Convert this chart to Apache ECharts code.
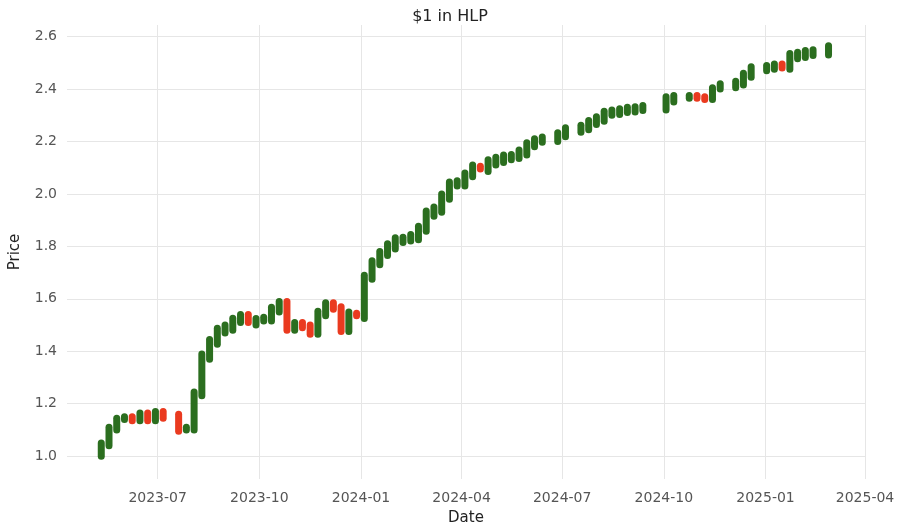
<!DOCTYPE html>
<html><head><meta charset="utf-8">
<script src="https://cdn.jsdelivr.net/npm/echarts@6/dist/echarts.min.js"></script>
<style>html,body{margin:0;padding:0;background:#fff}#c{width:900px;height:531px}</style>
</head><body><div id="c"></div>
<script>
const dates = ['2023-05-11','2023-05-18','2023-05-25','2023-06-01','2023-06-08','2023-06-15','2023-06-22','2023-06-29','2023-07-06',
'2023-07-20','2023-07-27','2023-08-03','2023-08-10','2023-08-17','2023-08-24','2023-08-31','2023-09-07','2023-09-14','2023-09-21','2023-09-28',
'2023-10-05','2023-10-12','2023-10-19','2023-10-26','2023-11-02','2023-11-09','2023-11-16','2023-11-23','2023-11-30','2023-12-07','2023-12-14',
'2023-12-21','2023-12-28','2024-01-04','2024-01-11','2024-01-18','2024-01-25','2024-02-01','2024-02-08','2024-02-15','2024-02-22','2024-02-29',
'2024-03-07','2024-03-14','2024-03-21','2024-03-28','2024-04-04','2024-04-11','2024-04-18','2024-04-25','2024-05-02','2024-05-09','2024-05-16',
'2024-05-23','2024-05-30','2024-06-06','2024-06-13','2024-06-27','2024-07-04','2024-07-18','2024-07-25','2024-08-01','2024-08-08','2024-08-15',
'2024-08-22','2024-08-29','2024-09-05','2024-09-12','2024-10-03','2024-10-10','2024-10-24','2024-10-31','2024-11-07','2024-11-14','2024-11-21',
'2024-12-05','2024-12-12','2024-12-19','2025-01-02','2025-01-09','2025-01-16','2025-01-23','2025-01-30','2025-02-06','2025-02-13','2025-02-27'];
const opens = [1.00,1.04,1.10,1.14,1.15,1.135,1.165,1.135,1.17,
1.16,1.10,1.10,1.23,1.37,1.427,1.47,1.48,1.51,1.54,1.50,
1.515,1.515,1.55,1.59,1.48,1.51,1.50,1.465,1.535,1.585,1.57,
1.475,1.545,1.525,1.675,1.73,1.765,1.79,1.815,1.82,1.825,1.858,
1.915,1.93,1.98,2.03,2.03,2.065,2.105,2.085,2.11,2.12,2.13,
2.135,2.148,2.18,2.197,2.20,2.218,2.235,2.245,2.265,2.277,2.30,
2.303,2.31,2.312,2.318,2.32,2.35,2.365,2.375,2.37,2.36,2.40,
2.405,2.415,2.445,2.47,2.475,2.495,2.475,2.515,2.52,2.528,2.53];
const closes = [1.05,1.11,1.145,1.15,1.135,1.165,1.135,1.17,1.145,
1.095,1.11,1.245,1.39,1.445,1.488,1.50,1.526,1.54,1.51,1.525,
1.53,1.568,1.59,1.48,1.51,1.49,1.465,1.553,1.585,1.56,1.475,
1.55,1.535,1.69,1.745,1.78,1.81,1.833,1.835,1.845,1.877,1.935,
1.95,2.00,2.045,2.05,2.08,2.11,2.095,2.13,2.14,2.148,2.15,
2.167,2.195,2.21,2.217,2.233,2.252,2.262,2.28,2.294,2.315,2.32,
2.325,2.33,2.332,2.337,2.37,2.375,2.375,2.365,2.36,2.405,2.42,
2.43,2.46,2.485,2.49,2.495,2.48,2.535,2.54,2.547,2.55,2.565];
const xTicks = ['2023-07-01','2023-10-01','2024-01-01','2024-04-01','2024-07-01','2024-10-01','2025-01-01','2025-04-01'];
const yTicks = [1.0,1.2,1.4,1.6,1.8,2.0,2.2,2.4,2.6];

const ts = d=>Date.parse(d+'T00:00:00Z');
const data = dates.map((d,i)=>[ts(d), opens[i], closes[i]]);
const xt = xTicks.map(ts);
const chart = echarts.init(document.getElementById('c'));
const lab = {color:'#555', fontSize:14, fontFamily:'DejaVu Sans'};
chart.setOption({
  animation:false,
  title:{text:'$1 in HLP', left:'center', top:4, textStyle:{fontSize:16, fontWeight:'normal', color:'#222', fontFamily:'DejaVu Sans'}},
  grid:{left:65, right:35, top:25, bottom:51},
  xAxis:{type:'value', min:ts('2023-04-10'), max:ts('2025-04-01'),
    name:'Date', nameLocation:'middle', nameGap:32, nameTextStyle:{fontSize:15,color:'#222',fontFamily:'DejaVu Sans'},
    axisLine:{show:false}, axisTick:{show:false, customValues:xt},
    axisLabel:Object.assign({customValues:xt, margin:12, showMaxLabel:true, formatter:v=>{const d=new Date(v);return d.getUTCFullYear()+'-'+String(d.getUTCMonth()+1).padStart(2,'0');}}, lab),
    splitLine:{show:true, lineStyle:{color:'#e6e6e6'}}},
  yAxis:{type:'value', min:0.913, max:2.644,
    name:'Price', nameLocation:'middle', nameGap:44, nameTextStyle:{fontSize:15,color:'#222',fontFamily:'DejaVu Sans'},
    axisLine:{show:false}, axisTick:{show:false, customValues:yTicks},
    axisLabel:Object.assign({customValues:yTicks, formatter:v=>v.toFixed(1), margin:10}, lab),
    splitLine:{show:true, lineStyle:{color:'#e6e6e6'}}},
  series:[{type:'custom', data:data, encode:{x:0,y:[1,2]},
    renderItem:(params,api)=>{
      const p1=api.coord([api.value(0),api.value(1)]), p2=api.coord([api.value(0),api.value(2)]);
      const up=api.value(2)>=api.value(1);
      return {type:'line', shape:{x1:p1[0],y1:p1[1],x2:p2[0],y2:p2[1]},
        style:{stroke:up?'#2b6e1f':'#ea3a1f', lineWidth:7, lineCap:'round'}};
    }}]
});
</script></body></html>
